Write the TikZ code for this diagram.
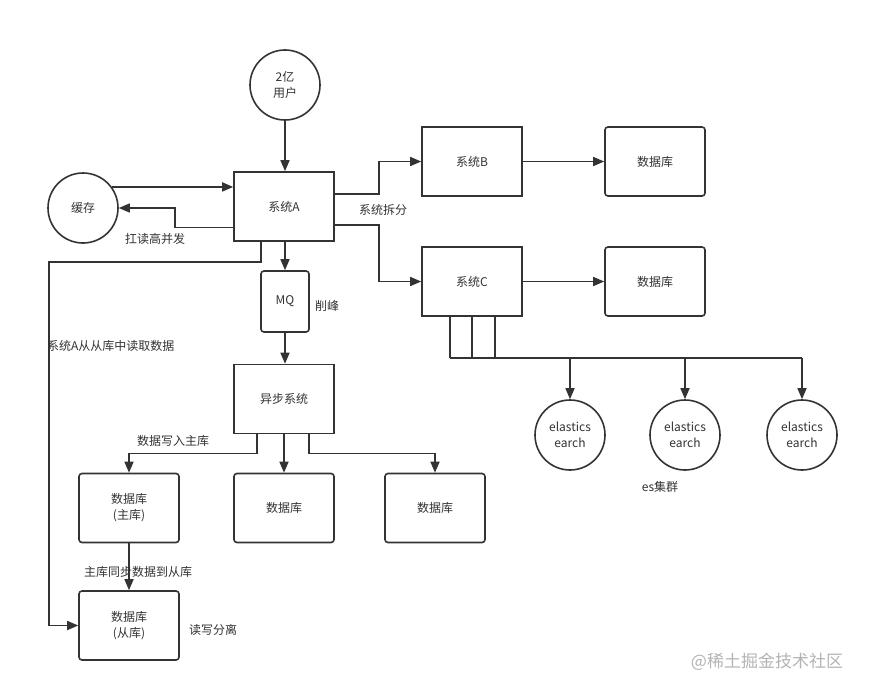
\documentclass[tikz,border=0pt]{standalone}
\usepackage{fontspec}
\setmainfont{Noto Sans CJK SC}
\usetikzlibrary{arrows.meta}
\usepackage{color}

\definecolor{linegray}{HTML}{333333}
\definecolor{markgray}{HTML}{B4B4B4}

\tikzset{
  sysbox/.style={draw=linegray,line width=1.6pt,fill=white,minimum width=100pt,minimum height=69pt,inner sep=0pt,align=center},
  dbbox/.style={sysbox,rounded corners=3pt},
  ring/.style={circle,draw=linegray,line width=1.6pt,fill=white,minimum size=70pt,inner sep=0pt,align=center},
  link/.style={->,draw=linegray,line width=1.6pt},
  wire/.style={draw=linegray,line width=1.6pt}
}

\begin{document}
\begin{tikzpicture}[line join=miter,>={Triangle[length=11pt,width=9pt]},x=1pt,y=-1pt,font=\fontsize{12}{16}\selectfont,text=linegray]
\useasboundingbox[fill=white] (0,0) rectangle (869,693);
% users and cache
\node[ring] (users) at (285,85) {2亿\\用户};
\node[ring] (cache) at (83,208) {缓存};
% systems
\node[sysbox] (sysA) at (284,206.5) {系统A};
\node[sysbox] (sysB) at (472,161.5) {系统B};
\node[dbbox] (dbB) at (655,161.5) {数据库};
\node[sysbox] (sysC) at (472,281.5) {系统C};
\node[dbbox] (dbC) at (655,281.5) {数据库};
\node[dbbox,minimum width=48pt,minimum height=61pt] (mq) at (285,301.5) {MQ};
\node[sysbox] (async) at (284,399) {异步系统};
% databases
\node[dbbox] (master) at (129,508) {数据库\\(主库)};
\node[dbbox] (dbMid) at (284,508) {数据库};
\node[dbbox] (dbRight) at (435,508) {数据库};
\node[dbbox] (slave) at (129,625.5) {数据库\\(从库)};
% es cluster
\foreach \x/\n in {570/es1,685/es2,802/es3}
  \node[ring] (\n) at (\x,435) {elastics\\earch};

% connectors
\draw[link] (users.south) -- (users.south |- sysA.north);
\draw[link] (cache.36) -- (sysA.west |- cache.36);
\draw[link] ([yshift=-21pt]sysA.west) -- ++(-58,0) |- (cache.east);
\draw[link] ([yshift=12.5pt]sysA.east) -- ++(44,0) |- (sysB.west);
\draw[link] ([yshift=-18.5pt]sysA.east) -- ++(44,0) |- (sysC.west);
\draw[link] (sysB.east) -- (dbB.west);
\draw[link] (sysC.east) -- (dbC.west);
\draw[link] (mq.north |- sysA.south) -- (mq.north);
\draw[link] (mq.south) -- (mq.south |- async.north);
\coordinate (readbus) at (49,262);
\draw[link] ([xshift=-23pt]sysA.south) |- (readbus) |- (slave.west);
\draw[link] ([xshift=-27pt]async.south) -- ++(0,19) -| (master.north);
\draw[link] (async.south) -- (dbMid.north);
\draw[link] ([xshift=25pt]async.south) -- ++(0,19) -| (dbRight.north);
\draw[link] (master.south) -- (slave.north);
\coordinate (esbus) at (450,358);
\foreach \dx in {-22,0,23}
  \draw[wire] ([xshift=\dx pt]sysC.south) -- ([xshift=\dx pt]sysC.south |- esbus);
\draw[wire] (esbus) -- (es3.north |- esbus);
\foreach \n in {es1,es2,es3}
  \draw[link] (\n.north |- esbus) -- (\n.north);

% labels
\node at (155,239) {扛读高并发};
\node at (383,210) {系统拆分};
\node at (327,306) {削峰};
\node[anchor=west,inner sep=0pt] at (47,346) {系统A从从库中读取数据};
\node at (173,441) {数据写入主库};
\node at (138,572) {主库同步数据到从库};
\node at (213,630) {读写分离};
\node at (660,487) {es集群};
\node[text=markgray,font=\fontsize{17}{20}\selectfont] at (767,662) {@稀土掘金技术社区};
\end{tikzpicture}
\end{document}
